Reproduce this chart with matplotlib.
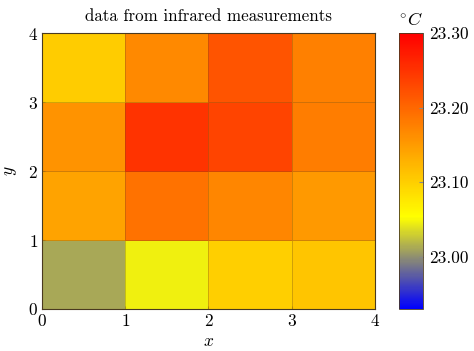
import numpy as np
import matplotlib
matplotlib.use("Agg")
import matplotlib.pyplot as plt
from matplotlib.colors import LinearSegmentedColormap

plt.rcParams['font.family'] = 'cmr10'
plt.rcParams['mathtext.fontset'] = 'cm'
plt.rcParams['axes.formatter.use_mathtext'] = True

# cell edges and temperatures (deg C), rows from y=0 upward
x_edges = [0, 1, 2, 3, 4]
y_edges = [0, 1, 2, 3, 4]
temps = [
    [23.012, 23.046, 23.100, 23.110],   # y 0-1
    [23.142, 23.190, 23.170, 23.152],   # y 1-2
    [23.158, 23.250, 23.234, 23.180],   # y 2-3
    [23.103, 23.168, 23.218, 23.176],   # y 3-4
]
vmin, vmax = 22.93, 23.30
cbar_ticks = [23.00, 23.10, 23.20, 23.30]

# pgfplots "hot" colormap: blue, yellow, orange, red
hot = LinearSegmentedColormap.from_list(
    'pgfhot', [(0, 0, 1), (1, 1, 0), (1, 0.5, 0), (1, 0, 0)])

fig = plt.figure(figsize=(4.74, 3.51), dpi=100)
ax = fig.add_axes([0.0886, 0.1197, 0.7025, 0.786])
cax = fig.add_axes([0.842, 0.1197, 0.0506, 0.786])

mesh = ax.pcolormesh(x_edges, y_edges, np.array(temps), cmap=hot,
                     vmin=vmin, vmax=vmax, edgecolor=(0.4, 0.3, 0.1, 0.3),
                     linewidth=0.6)
ax.set_xlim(0, 4)
ax.set_ylim(0, 4)
ax.set_xticks(x_edges)
ax.set_yticks(y_edges)
ax.tick_params(direction='in', length=2, labelsize=12.5, pad=3,
               color=(0.4, 0.3, 0.1, 0.3))
ax.set_xlabel('$x$', fontsize=12.5, labelpad=3)
ax.set_ylabel('$y$', fontsize=12.5, labelpad=6)
ax.set_title('data from infrared measurements', fontsize=12.2, pad=9)
for s in ax.spines.values():
    s.set_color('#4a3a20')
    s.set_linewidth(0.8)

cb = fig.colorbar(mesh, cax=cax, ticks=cbar_ticks)
cb.ax.set_yticklabels(['%.2f' % t for t in cbar_ticks])
cb.ax.tick_params(direction='in', length=3, labelsize=12.5, pad=4,
                  color='#888888')
cb.outline.set_linewidth(0.6)
cb.outline.set_edgecolor('#4a3a20')
cax.set_title(r'$^{\circ}C$', fontsize=13, pad=6)

fig.savefig('out.png', dpi=100)
